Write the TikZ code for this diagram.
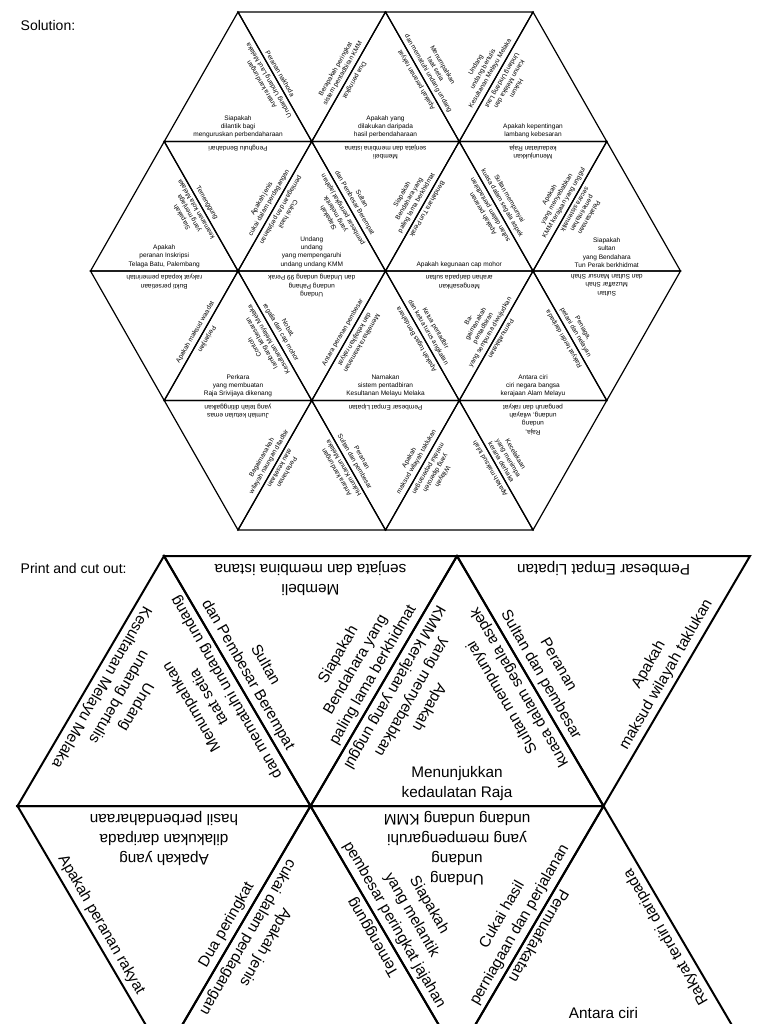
\documentclass[tikz,border=0pt]{standalone}
\usepackage{fontspec}
\setmainfont{Liberation Sans}
\usetikzlibrary{calc}
\newcommand\dd{2}
\newcommand\lab[5]{% A B G angle text
  \node[lbl,rotate=#4,anchor=south] at ($($(#1)!0.5!(#2)$)!\dd pt!(#3)$) {#5};}
\newcommand\UT[7]{% apex x, apex y, s, h, bottom, left, right
  \coordinate (A) at (#1,#2);
  \coordinate (B) at ({#1-#3/2},{#2+#4});
  \coordinate (C) at ({#1+#3/2},{#2+#4});
  \coordinate (G) at ({#1},{#2+2*#4/3});
  \draw[edge] (A)--(B)--(C)--cycle;
  \lab{B}{C}{G}{0}{#5}\lab{B}{A}{G}{240}{#6}\lab{A}{C}{G}{120}{#7}}
\newcommand\DT[7]{% top-left x, top y, s, h, top, left, right
  \coordinate (A) at ({#1+#3/2},{#2+#4});
  \coordinate (B) at (#1,#2);
  \coordinate (C) at ({#1+#3},#2);
  \coordinate (G) at ({#1+#3/2},{#2+#4/3});
  \draw[edge] (A)--(B)--(C)--cycle;
  \lab{B}{C}{G}{180}{#5}\lab{B}{A}{G}{300}{#6}\lab{A}{C}{G}{60}{#7}}
\begin{document}
\begin{tikzpicture}[x=0.75pt,y=-0.75pt]
\useasboundingbox[fill=white] (0,0) rectangle (768,1024);
\node[anchor=west,font=\fontsize{10.5}{12}\selectfont] (sol) at (16,25) {Solution:};
\node[anchor=west,font=\fontsize{10.5}{12}\selectfont] (pc) at (16,568) {Print and cut out:};
% ---------- hexagon ----------
\tikzset{edge/.style={line width=0.9pt},lbl/.style={align=center,inner sep=0.5pt,font=\fontsize{4.9}{6.2}\selectfont}}
\def\s{147.5}\def\h{129.5}
% row 0
\UT{238}{12}{\s}{\h}{Siapakah\\dilantik bagi\\menguruskan perbendaharaan}{}{Antara kandungan\\Undang Undang Laut Melaka}
\DT{238}{12}{\s}{\h}{}{Peranan nakhoda}{Berapakah peringkat\\sistem pentadbiran KMM}
\UT{385.5}{12}{\s}{\h}{Apakah yang\\dilakukan daripada\\hasil perbendaharaan}{Dua peringkat}{Apakah peranan rakyat}
\DT{385.5}{12}{\s}{\h}{}{Menumpahkan\\taat setia\\dan mematuhi undang undang}{Undang\\undang bertulis\\Kesultanan Melayu Melaka}
\UT{533}{12}{\s}{\h}{Apakah kepentingan\\lambang kebesaran}{Hukum\\Kanun Melaka dan\\Undang Undang Laut}{}
% row 1
\UT{164.25}{141.5}{\s}{\h}{Apakah\\peranan Inskripsi\\Telaga Batu, Palembang}{}{Siapakah\\yang menjaga\\keamanan kota Melaka}
\DT{164.25}{141.5}{\s}{\h}{Penghulu Bendahari}{Temenggung}{Apakah jenis\\cukai dalam perdagangan}
\UT{311.75}{141.5}{\s}{\h}{Undang\\undang\\yang mempengaruhi\\undang undang KMM}{Cukai hasil\\perniagaan dan perjalanan}{Siapakah\\yang melantik\\pembesar peringkat jajahan}
\DT{311.75}{141.5}{\s}{\h}{Membeli\\senjata dan membina istana}{Sultan\\dan Pembesar Berempat}{Siapakah\\Bendahara yang\\paling lama berkhidmat}
\UT{459.25}{141.5}{\s}{\h}{Apakah kegunaan cap mohor}{Bendahara Tun Perak}{Apakah peranan\\sultan dalam pentadbiran}
\DT{459.25}{141.5}{\s}{\h}{Menunjukkan\\kedaulatan Raja}{Sultan mempunyai\\kuasa dalam segala aspek}{Apakah\\yang menyebabkan\\KMM kerajaan yang unggul}
\UT{606.75}{141.5}{\s}{\h}{Siapakah\\sultan\\yang Bendahara\\Tun Perak berkhidmat}{Pelaksanaan\\pemerintahan\\secara sistematik}{}
% row 2
\DT{90.5}{271}{\s}{\h}{Bukti persetiaan\\rakyat kepada pemerintah}{}{Apakah maksud waadat}
\UT{238}{271}{\s}{\h}{Perkara\\yang membuatan\\Raja Srivijaya dikenang}{Perjanjian}{Contoh\\lambang kebesaran\\Kesultanan Melayu Melaka}
\DT{238}{271}{\s}{\h}{Undang\\undang Pahang\\dan Undang undang 99 Perak}{Nobat,\\regalia dan cap mohor}{Antara peranan pembesar}
\UT{385.5}{271}{\s}{\h}{Namakan\\sistem pentadbiran\\Kesultanan Melayu Melaka}{Memelihara keamanan\\dan kebajikan rakyat}{Apakah tugas Bendahara}
\DT{385.5}{271}{\s}{\h}{Mengesahkan\\arahan daripada sultan}{Ketua pentadbir\\dan ketua turus angkatan}{Ba-\\gaimanakah\\pentadbiran\\yang sempurna diwujudkan}
\UT{533}{271}{\s}{\h}{Antara ciri\\ciri negara bangsa\\kerajaan Alam Melayu}{Permuafakatan}{Rakyat terdiri daripada}
\DT{533}{271}{\s}{\h}{Sultan\\Muzaffar Shah\\dan Sultan Mansur Shah}{Peniaga,\\petani dan nelayan}{}
% row 3
\DT{164.25}{400.5}{\s}{\h}{Jumlah ketulan emas\\yang telah ditinggalkan}{}{Bagaimanakah\\wilayah naungan ditadbir}
\UT{311.75}{400.5}{\s}{\h}{}{Pertahanan\\atau kesetiaan}{Antara kandungan\\Hukum Kanun Melaka}
\DT{311.75}{400.5}{\s}{\h}{Pembesar Empat Lipatan}{Peranan\\Sultan dan pembesar}{Apakah\\maksud wilayah taklukan}
\UT{459.25}{400.5}{\s}{\h}{}{Wilayah\\yang diperoleh\\melalui peperangan}{Apakah maksud tulah}
\DT{459.25}{400.5}{\s}{\h}{Raja,\\undang\\undang, wilayah\\pengaruh dan rakyat}{Kecelakaan\\yang menimpa\\kerana derhaka}{}
% ---------- cut-out pieces ----------
\tikzset{edge/.style={line width=1.5pt},lbl/.style={align=center,inner sep=1pt,font=\fontsize{11.5}{15}\selectfont}}
\renewcommand\dd{2.5}
\def\s{293}\def\h{250}
\UT{164}{556}{\s}{\h}{}{Undang\\undang bertulis\\Kesultanan Melayu Melaka}{Menumpahkan\\taat setia\\dan mematuhi undang undang}
\DT{164}{556}{\s}{\h}{Membeli\\senjata dan membina istana}{Sultan\\dan Pembesar Berempat}{Siapakah\\Bendahara yang\\paling lama berkhidmat}
\UT{457}{556}{\s}{\h}{Menunjukkan\\kedaulatan Raja}{Apakah\\yang menyebabkan\\KMM kerajaan yang unggul}{Sultan mempunyai\\kuasa dalam segala aspek}
\DT{457}{556}{\s}{\h}{Pembesar Empat Lipatan}{Peranan\\Sultan dan pembesar}{Apakah\\maksud wilayah taklukan}
\DT{17.5}{806}{\s}{\h}{Apakah yang\\dilakukan daripada\\hasil perbendaharaan}{Apakah peranan rakyat}{Dua peringkat}
\UT{310.5}{806}{\s}{\h}{}{Apakah jenis\\cukai dalam perdagangan}{Temenggung}
\DT{310.5}{806}{\s}{\h}{Undang\\undang\\yang mempengaruhi\\undang undang KMM}{Siapakah\\yang melantik\\pembesar peringkat jajahan}{Cukai hasil\\perniagaan dan perjalanan}
\UT{603.5}{806}{\s}{\h}{}{Permuafakatan}{Rakyat terdiri daripada}
\node[lbl,anchor=north] (ciri) at (603.5,1006) {Antara ciri\\ciri negara bangsa\\kerajaan Alam Melayu};
\end{tikzpicture}
\end{document}
